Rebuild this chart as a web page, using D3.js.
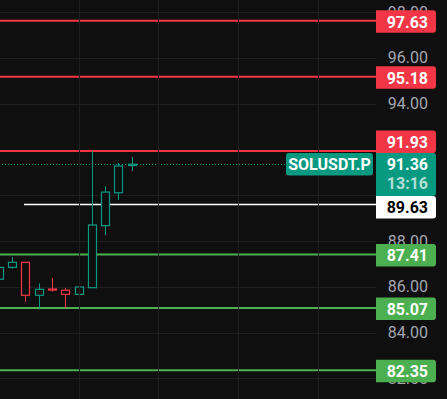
<!DOCTYPE html>
<html><head><meta charset="utf-8">
<script src="https://cdn.jsdelivr.net/npm/d3@7"></script>
<style>html,body{margin:0;padding:0;background:#0f0f0f;}svg{display:block;}</style>
</head><body>
<svg id="c" width="447" height="399"></svg>
<script>
// ---- data ----
const opens  = [86.33, 86.85, 87.07, 85.63, 85.90, 85.85, 85.67, 85.96, 88.67, 90.11, 91.30];
const highs  = [87.00, 87.30, 87.07, 86.15, 86.38, 85.95, 86.25, 91.93, 90.40, 91.41, 91.67];
const lows   = [86.20, 86.79, 85.34, 85.02, 85.79, 85.06, 85.57, 85.96, 88.26, 89.79, 91.06];
const closes = [86.85, 87.07, 85.63, 85.89, 85.88, 85.67, 85.99, 88.70, 90.14, 91.28, 91.36];
const redLevels = [97.63, 95.18, 91.93];
const greenLevels = [87.41, 85.07, 82.35];
const whiteLevel = 89.63;
const whiteStart = 1.9;
const lastPrice = 91.36;
const symbol = "SOLUSDT.P";
const countdown = "13:16";
const yTicks = [82, 84, 86, 88, 90, 92, 94, 96, 98];
const xGrid = [6, 12, 18, 24];

// ---- layout ----
const W = 447, H = 399, plotW = 376;
const UP = "#089981", DOWN = "#f23645", GREEN = "#4caf50", RED = "#f23645";
const FONT = "Roboto, 'Noto Sans', sans-serif";
const svg = d3.select("#c");
const y = d3.scaleLinear().domain([97.63, 82.35]).range([20.7, 370.3]);
const x = d3.scaleLinear().domain([0, 10]).range([-1.3, 131.7]);

svg.append("rect").attr("width", W).attr("height", H).attr("fill", "#0f0f0f");
svg.append("defs").append("clipPath").attr("id", "pc").append("rect")
  .attr("width", plotW).attr("height", H);
const plot = svg.append("g").attr("clip-path", "url(#pc)");

// grid
plot.selectAll(".hg").data(yTicks).join("line")
  .attr("x1", 0).attr("x2", plotW)
  .attr("y1", d => Math.round(y(d)) + 0.5).attr("y2", d => Math.round(y(d)) + 0.5)
  .attr("stroke", "#1f1f1f").attr("stroke-width", 1);
svg.selectAll(".vg").data(xGrid).join("line")
  .attr("x1", d => Math.round(x(d)) + 0.5).attr("x2", d => Math.round(x(d)) + 0.5)
  .attr("y1", 0).attr("y2", H)
  .attr("stroke", "#1f1f1f").attr("stroke-width", 1);

// level lines
plot.selectAll(".rl").data(redLevels).join("line")
  .attr("x1", 0).attr("x2", plotW).attr("y1", d => y(d)).attr("y2", d => y(d))
  .attr("stroke", RED).attr("stroke-width", 2);
plot.selectAll(".gl").data(greenLevels).join("line")
  .attr("x1", 0).attr("x2", plotW).attr("y1", d => y(d)).attr("y2", d => y(d))
  .attr("stroke", GREEN).attr("stroke-width", 2);
plot.append("line").attr("x1", x(whiteStart)).attr("x2", plotW)
  .attr("y1", Math.round(y(whiteLevel)) + 0.5).attr("y2", Math.round(y(whiteLevel)) + 0.5)
  .attr("stroke", "#ffffff").attr("stroke-width", 1.3);
plot.append("line").attr("x1", 2).attr("x2", 286)
  .attr("y1", Math.round(y(lastPrice)) + 0.5).attr("y2", Math.round(y(lastPrice)) + 0.5)
  .attr("stroke", UP).attr("stroke-width", 1).attr("stroke-dasharray", "1,2");

// candles
const idx = d3.range(opens.length);
const bw = 8;
const cg = plot.append("g");
cg.selectAll(".wick").data(idx).join("line")
  .attr("x1", i => Math.round(x(i)) + 0.5).attr("x2", i => Math.round(x(i)) + 0.5)
  .attr("y1", i => y(highs[i])).attr("y2", i => y(lows[i]))
  .attr("stroke", i => closes[i] >= opens[i] ? UP : DOWN).attr("stroke-width", 1);
cg.selectAll(".body").data(idx).join("rect")
  .attr("x", i => Math.round(x(i)) - bw / 2 + 0.5)
  .attr("y", i => Math.min(y(opens[i]), y(closes[i])))
  .attr("width", bw)
  .attr("height", i => Math.max(1, Math.abs(y(opens[i]) - y(closes[i]))))
  .attr("fill", "#0f0f0f")
  .attr("stroke", i => closes[i] >= opens[i] ? UP : DOWN).attr("stroke-width", 1.2);

// axis tick labels
const axisX = 428;
svg.selectAll(".tl").data(yTicks).join("text")
  .attr("x", axisX).attr("y", d => y(d)).attr("text-anchor", "end")
  .attr("dominant-baseline", "central").attr("font-family", FONT)
  .attr("font-size", 16).attr("fill", "#a3a6af").text(d => d.toFixed(2));

// label boxes with simple collision layout
const bx = 376, bwid = 60, bh = 22.5;
function boxPath(x0, y0, w, h, r) {
  return `M${x0},${y0}H${x0 + w - r}Q${x0 + w},${y0} ${x0 + w},${y0 + r}V${y0 + h - r}Q${x0 + w},${y0 + h} ${x0 + w - r},${y0 + h}H${x0}Z`;
}
const tealTop = y(lastPrice) - bh / 2;
const tealH = 43;
const tealBottom = tealTop + tealH;
const labels = [];
redLevels.forEach(v => labels.push({v, bg: RED, fg: "#fff"}));
greenLevels.forEach(v => labels.push({v, bg: GREEN, fg: "#fff"}));
labels.push({v: whiteLevel, bg: "#fff", fg: "#000"});
labels.forEach(l => {
  let top = y(l.v) + 0.8 - bh / 2;
  if (top < tealBottom && top + bh > tealTop) {
    top = l.v > lastPrice ? tealTop - bh : tealBottom;
  }
  l.top = top;
});
const lg = svg.append("g");
lg.selectAll("path").data(labels).join("path")
  .attr("d", l => boxPath(bx, l.top, bwid, bh, 3)).attr("fill", l => l.bg);
lg.selectAll("text").data(labels).join("text")
  .attr("x", axisX).attr("y", l => l.top + bh / 2 + 0.5).attr("text-anchor", "end")
  .attr("dominant-baseline", "central").attr("font-family", FONT)
  .attr("font-size", 16).attr("font-weight", "bold").attr("fill", l => l.fg)
  .text(l => l.v.toFixed(2));

// last price box
svg.append("path").attr("d", boxPath(bx, tealTop, bwid, tealH, 3)).attr("fill", UP);
svg.append("text").attr("x", axisX).attr("y", tealTop + 12).attr("text-anchor", "end")
  .attr("dominant-baseline", "central").attr("font-family", FONT).attr("font-size", 16)
  .attr("font-weight", "bold").attr("fill", "#fff").text(lastPrice.toFixed(2));
svg.append("text").attr("x", axisX).attr("y", tealTop + 31).attr("text-anchor", "end")
  .attr("dominant-baseline", "central").attr("font-family", FONT).attr("font-size", 16)
  .attr("font-weight", "bold").attr("fill", "rgba(255,255,255,0.7)").text(countdown);

// symbol label
svg.append("rect").attr("x", 286).attr("y", tealTop).attr("width", 87).attr("height", bh)
  .attr("rx", 3).attr("fill", UP);
svg.append("text").attr("x", 286 + 87 / 2).attr("y", tealTop + bh / 2 + 0.5)
  .attr("text-anchor", "middle").attr("dominant-baseline", "central")
  .attr("font-family", FONT).attr("font-size", 16).attr("font-weight", "bold")
  .attr("fill", "#fff").text(symbol);
</script>
</body></html>
